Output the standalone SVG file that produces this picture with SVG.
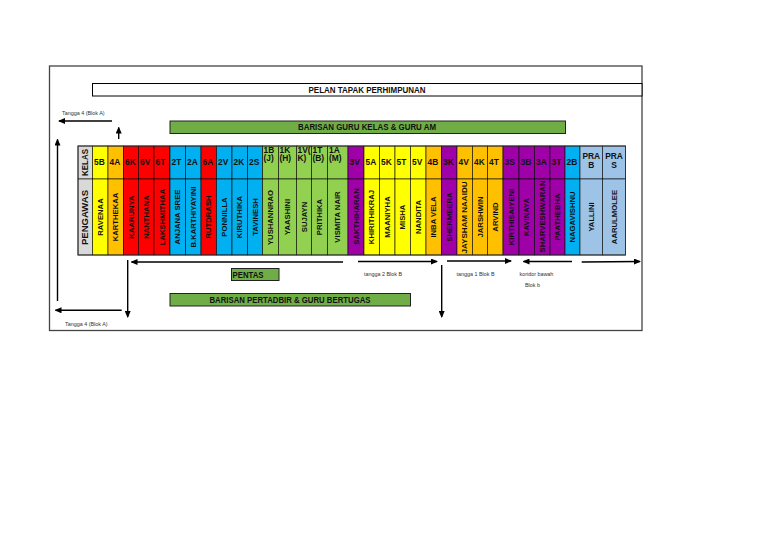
<svg xmlns="http://www.w3.org/2000/svg" width="768" height="543" viewBox="0 0 768 543">
<style>
.bg{fill:#ffffff}
.frame{fill:none;stroke:#444;stroke-width:1.3}
.box{fill:#ffffff;stroke:#000;stroke-width:1}
.bar{fill:#70AD47;stroke:#222;stroke-width:1}
.cell{stroke:#000;stroke-width:0.6}
.t{font-family:"Liberation Sans",Arial,sans-serif;font-weight:bold;fill:#111}
.code{font-size:8.4px}
.name{font-size:7.7px;text-anchor:middle;dominant-baseline:central}
.small{font-family:"Liberation Sans",Arial,sans-serif;font-size:5.4px;fill:#333}
.big{font-size:8.6px;text-anchor:middle}
.arr{fill:none;stroke:#000;stroke-width:1.4;marker-end:url(#ah)}
.yel{fill:#FFFF00}.org{fill:#FFC000}.red{fill:#FF0000}.blu{fill:#00B0F0}.grn{fill:#92D050}.pur{fill:#A000A8}.lbl{fill:#9DC3E6}.gry{fill:#D9D9D9}
</style>
<defs>
<marker id="ah" markerUnits="userSpaceOnUse" markerWidth="7" markerHeight="6" refX="6" refY="3" orient="auto">
<path d="M0,0 L7,3 L0,6 z" fill="#000"/>
</marker>
</defs>
<rect class="bg" x="0" y="0" width="768" height="543"/>
<rect class="frame" x="49.5" y="66" width="592.5" height="264.5"/>

<g id="title">
<rect class="box" x="92.5" y="83.5" width="549.5" height="12.5"/>
<text class="t big" x="367" y="92.6" textLength="117" lengthAdjust="spacingAndGlyphs">PELAN TAPAK PERHIMPUNAN</text>
</g>
<g id="guru-kelas">
<rect class="bar" x="170" y="121" width="395.5" height="12.5"/>
<text class="t big" x="367" y="130.3" textLength="138" lengthAdjust="spacingAndGlyphs">BARISAN GURU KELAS &amp; GURU AM</text>
</g>
<g id="pentas">
<rect class="bar" x="231.5" y="268.5" width="47.5" height="12"/>
<text class="t" style="font-size:8.6px" x="232.5" y="277.6" textLength="31" lengthAdjust="spacingAndGlyphs">PENTAS</text>
</g>
<g id="pertadbir">
<rect class="bar" x="170" y="293.5" width="240.5" height="12.5"/>
<text class="t big" x="290" y="302.6" textLength="161" lengthAdjust="spacingAndGlyphs">BARISAN PERTADBIR &amp; GURU BERTUGAS</text>
</g>

<g id="kelas-col">
<rect class="cell gry" x="78" y="146" width="14.5" height="33"/>
<rect class="cell gry" x="78" y="179" width="14.5" height="76"/>
<text class="t" style="font-size:8.2px;text-anchor:middle;dominant-baseline:central" transform="translate(85.3,162.5) rotate(-90)" textLength="27" lengthAdjust="spacingAndGlyphs">KELAS</text>
<text class="t" style="font-size:8.2px;text-anchor:middle;dominant-baseline:central" transform="translate(85.3,217.5) rotate(-90)" textLength="55" lengthAdjust="spacingAndGlyphs">PENGAWAS</text>
</g>

<g id="c-5B"><rect class="cell yel" x="92.5" y="146" width="15.5" height="33"/><rect class="cell yel" x="92.5" y="179" width="15.5" height="76"/><text class="t code" x="94" y="165.3">5B</text><text class="t name" transform="translate(100.3,217) rotate(-90)">RAVENAA</text></g>
<g id="c-4A"><rect class="cell org" x="108" y="146" width="15.5" height="33"/><rect class="cell org" x="108" y="179" width="15.5" height="76"/><text class="t code" x="109.5" y="165.3">4A</text><text class="t name" transform="translate(115.8,217) rotate(-90)">KARTHEKAA</text></g>
<g id="c-6K"><rect class="cell red" x="123.5" y="146" width="15" height="33"/><rect class="cell red" x="123.5" y="179" width="15" height="76"/><text class="t code" x="125" y="165.3">6K</text><text class="t name" transform="translate(131,217) rotate(-90)">KAARUNYA</text></g>
<g id="c-6V"><rect class="cell red" x="138.5" y="146" width="15.5" height="33"/><rect class="cell red" x="138.5" y="179" width="15.5" height="76"/><text class="t code" x="140" y="165.3">6V</text><text class="t name" transform="translate(146.3,217) rotate(-90)">NANTHANA</text></g>
<g id="c-6T"><rect class="cell red" x="154" y="146" width="16" height="33"/><rect class="cell red" x="154" y="179" width="16" height="76"/><text class="t code" x="155.5" y="165.3">6T</text><text class="t name" transform="translate(162,217) rotate(-90)">LAKSHMITHAA</text></g>
<g id="c-2T"><rect class="cell blu" x="170" y="146" width="15.5" height="33"/><rect class="cell blu" x="170" y="179" width="15.5" height="76"/><text class="t code" x="171.5" y="165.3">2T</text><text class="t name" transform="translate(177.8,217) rotate(-90)">ANJANA SREE</text></g>
<g id="c-2A"><rect class="cell blu" x="185.5" y="146" width="15.5" height="33"/><rect class="cell blu" x="185.5" y="179" width="15.5" height="76"/><text class="t code" x="187" y="165.3">2A</text><text class="t name" transform="translate(193.3,217) rotate(-90)">B.KARTHIYAYINI</text></g>
<g id="c-6A"><rect class="cell red" x="201" y="146" width="15.5" height="33"/><rect class="cell red" x="201" y="179" width="15.5" height="76"/><text class="t code" x="202.5" y="165.3">6A</text><text class="t name" transform="translate(208.8,217) rotate(-90)">RUTDRASH</text></g>
<g id="c-2V"><rect class="cell blu" x="216.5" y="146" width="15.5" height="33"/><rect class="cell blu" x="216.5" y="179" width="15.5" height="76"/><text class="t code" x="218" y="165.3">2V</text><text class="t name" transform="translate(224.3,217) rotate(-90)">PONNILLA</text></g>
<g id="c-2K"><rect class="cell blu" x="232" y="146" width="15.5" height="33"/><rect class="cell blu" x="232" y="179" width="15.5" height="76"/><text class="t code" x="233.5" y="165.3">2K</text><text class="t name" transform="translate(239.8,217) rotate(-90)">KIRUTHIKA</text></g>
<g id="c-2S"><rect class="cell blu" x="247.5" y="146" width="15" height="33"/><rect class="cell blu" x="247.5" y="179" width="15" height="76"/><text class="t code" x="249" y="165.3">2S</text><text class="t name" transform="translate(255,217) rotate(-90)">TAVINESH</text></g>
<g id="c-1B"><rect class="cell grn" x="262.5" y="146" width="16" height="33"/><rect class="cell grn" x="262.5" y="179" width="16" height="76"/><text class="t code" x="263.5" y="152.8">1B</text><text class="t code" x="263.5" y="161.3">(J)</text><text class="t name" transform="translate(270.5,217.5) rotate(-90)">YUSHANNRAO</text></g>
<g id="c-1K"><rect class="cell grn" x="278.5" y="146" width="18" height="33"/><rect class="cell grn" x="278.5" y="179" width="18" height="76"/><text class="t code" x="279.5" y="152.8">1K</text><text class="t code" x="279.5" y="161.3">(H)</text><text class="t name" transform="translate(287.5,217) rotate(-90)">YAASHINI</text></g>
<g id="c-1V"><rect class="cell grn" x="296.5" y="146" width="15" height="33"/><rect class="cell grn" x="296.5" y="179" width="15" height="76"/><text class="t code" x="297.5" y="152.8">1V(</text><text class="t code" x="297.5" y="161.3">K)</text><text class="t name" transform="translate(304,217) rotate(-90)">SUJAYN</text></g>
<g id="c-1T"><rect class="cell grn" x="311.5" y="146" width="16" height="33"/><rect class="cell grn" x="311.5" y="179" width="16" height="76"/><text class="t code" x="312.5" y="152.8">1T</text><text class="t code" x="312.5" y="161.3">(B)</text><text class="t name" transform="translate(319.5,217) rotate(-90)">PRITHIKA</text></g>
<g id="c-1A"><rect class="cell grn" x="327.5" y="146" width="20.5" height="33"/><rect class="cell grn" x="327.5" y="179" width="20.5" height="76"/><text class="t code" x="329" y="152.8">1A</text><text class="t code" x="329" y="161.3">(M)</text><text class="t name" transform="translate(337.8,217) rotate(-90)">VISMITA NAIR</text></g>
<g id="c-3V"><rect class="cell pur" x="348" y="146" width="16" height="33"/><rect class="cell pur" x="348" y="179" width="16" height="76"/><text class="t code" x="349.5" y="165.3">3V</text><text class="t name" transform="translate(356,216.5) rotate(-90)">SAKTHIHARAN</text></g>
<g id="c-5A"><rect class="cell yel" x="364" y="146" width="15.5" height="33"/><rect class="cell yel" x="364" y="179" width="15.5" height="76"/><text class="t code" x="365.5" y="165.3">5A</text><text class="t name" transform="translate(371.8,217) rotate(-90)">KHIRITHIKRAJ</text></g>
<g id="c-5K"><rect class="cell yel" x="379.5" y="146" width="15.5" height="33"/><rect class="cell yel" x="379.5" y="179" width="15.5" height="76"/><text class="t code" x="381" y="165.3">5K</text><text class="t name" transform="translate(387.3,217) rotate(-90)">MAANIYHA</text></g>
<g id="c-5T"><rect class="cell yel" x="395" y="146" width="15.5" height="33"/><rect class="cell yel" x="395" y="179" width="15.5" height="76"/><text class="t code" x="396.5" y="165.3">5T</text><text class="t name" transform="translate(402.8,217) rotate(-90)">MISHA</text></g>
<g id="c-5V"><rect class="cell yel" x="410.5" y="146" width="15.5" height="33"/><rect class="cell yel" x="410.5" y="179" width="15.5" height="76"/><text class="t code" x="412" y="165.3">5V</text><text class="t name" transform="translate(418.3,217) rotate(-90)">NANDITA</text></g>
<g id="c-4B"><rect class="cell org" x="426" y="146" width="15.5" height="33"/><rect class="cell org" x="426" y="179" width="15.5" height="76"/><text class="t code" x="427.5" y="165.3">4B</text><text class="t name" transform="translate(433.8,217) rotate(-90)">INBA VELA</text></g>
<g id="c-3K"><rect class="cell pur" x="441.5" y="146" width="15.5" height="33"/><rect class="cell pur" x="441.5" y="179" width="15.5" height="76"/><text class="t code" x="443" y="165.3">3K</text><text class="t name" transform="translate(449.3,217) rotate(-90)">SHERMEERA</text></g>
<g id="c-4V"><rect class="cell org" x="457" y="146" width="15.5" height="33"/><rect class="cell org" x="457" y="179" width="15.5" height="76"/><text class="t code" x="458.5" y="165.3">4V</text><text class="t name" transform="translate(464.8,217.5) rotate(-90)" textLength="72" lengthAdjust="spacingAndGlyphs">JAYSHAM NAAIDU</text></g>
<g id="c-4K"><rect class="cell org" x="472.5" y="146" width="15" height="33"/><rect class="cell org" x="472.5" y="179" width="15" height="76"/><text class="t code" x="474" y="165.3">4K</text><text class="t name" transform="translate(480,217) rotate(-90)">JARSHWIN</text></g>
<g id="c-4T"><rect class="cell org" x="487.5" y="146" width="15.5" height="33"/><rect class="cell org" x="487.5" y="179" width="15.5" height="76"/><text class="t code" x="489" y="165.3">4T</text><text class="t name" transform="translate(495.3,217) rotate(-90)">ARVIND</text></g>
<g id="c-3S"><rect class="cell pur" x="503" y="146" width="16" height="33"/><rect class="cell pur" x="503" y="179" width="16" height="76"/><text class="t code" x="504.5" y="165.3">3S</text><text class="t name" transform="translate(511,217) rotate(-90)">KIRTHISAIYENI</text></g>
<g id="c-3B"><rect class="cell pur" x="519" y="146" width="15.5" height="33"/><rect class="cell pur" x="519" y="179" width="15.5" height="76"/><text class="t code" x="520.5" y="165.3">3B</text><text class="t name" transform="translate(526.8,217) rotate(-90)">KAVINAYA</text></g>
<g id="c-3A"><rect class="cell pur" x="534.5" y="146" width="15.5" height="33"/><rect class="cell pur" x="534.5" y="179" width="15.5" height="76"/><text class="t code" x="536" y="165.3">3A</text><text class="t name" transform="translate(542.3,216.5) rotate(-90)" textLength="72" lengthAdjust="spacingAndGlyphs">SHARVESHWARAN</text></g>
<g id="c-3T"><rect class="cell pur" x="550" y="146" width="15" height="33"/><rect class="cell pur" x="550" y="179" width="15" height="76"/><text class="t code" x="551.5" y="165.3">3T</text><text class="t name" transform="translate(557.5,217) rotate(-90)">PAATHEBHA</text></g>
<g id="c-2B"><rect class="cell blu" x="565" y="146" width="15" height="33"/><rect class="cell blu" x="565" y="179" width="15" height="76"/><text class="t code" x="566.5" y="165.3">2B</text><text class="t name" transform="translate(572.5,217) rotate(-90)">NAGAVISHNU</text></g>
<g id="c-PRAB"><rect class="cell lbl" x="580" y="146" width="22.5" height="33"/><rect class="cell lbl" x="580" y="179" width="22.5" height="76"/><text class="t code" style="text-anchor:middle" x="591.3" y="159">PRA</text><text class="t code" style="text-anchor:middle" x="591.3" y="168">B</text><text class="t name" transform="translate(591.3,217) rotate(-90)">YALLINI</text></g>
<g id="c-PRAS"><rect class="cell lbl" x="602.5" y="146" width="23" height="33"/><rect class="cell lbl" x="602.5" y="179" width="23" height="76"/><text class="t code" style="text-anchor:middle" x="614" y="159">PRA</text><text class="t code" style="text-anchor:middle" x="614" y="168">S</text><text class="t name" transform="translate(614,217) rotate(-90)">AARULMOLEE</text></g>
<rect x="78" y="146" width="547.5" height="109" fill="none" stroke="#333" stroke-width="1"/>

<g id="labels">
<text class="small" x="62" y="115">Tangga 4 (Blok A)</text>
<text class="small" x="65" y="325.5">Tangga 4 (Blok A)</text>
<text class="small" x="364" y="276">tangga 2 Blok B</text>
<text class="small" x="456.5" y="276">tangga 1 Blok B</text>
<text class="small" x="519.5" y="276">koridor bawah</text>
<text class="small" x="525" y="287">Blok b</text>
</g>

<g id="connectors">
<line class="arr" x1="112" y1="121" x2="59" y2="121"/>
<line class="arr" x1="118.7" y1="139" x2="118.7" y2="127.5"/>
<line class="arr" x1="57.5" y1="301" x2="57.5" y2="139.5"/>
<line class="arr" x1="121.7" y1="310.3" x2="55.5" y2="310.3"/>
<line class="arr" x1="127.7" y1="260" x2="127.7" y2="317"/>
<line class="arr" x1="343" y1="262" x2="131.5" y2="262"/>
<line class="arr" x1="358" y1="261.5" x2="437" y2="261.5"/>
<line class="arr" x1="447" y1="261" x2="511" y2="261"/>
<line class="arr" x1="572" y1="261.5" x2="523.5" y2="261.5"/>
<line class="arr" x1="581.7" y1="262" x2="640" y2="261.5"/>
<line class="arr" x1="441.7" y1="265" x2="441.7" y2="317"/>
</g>
</svg>
